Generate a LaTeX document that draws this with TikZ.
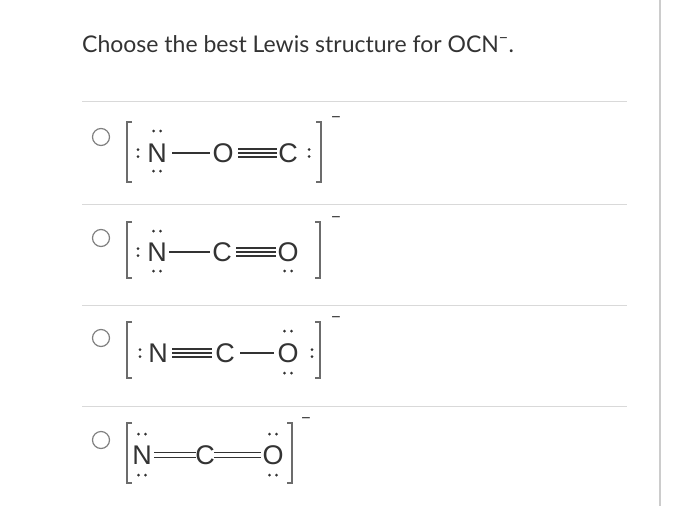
\documentclass[tikz,border=0pt]{standalone}
\usepackage{fontspec}
\setmainfont{Lato}
\newfontfamily\atomfont{Liberation Sans}
\newcommand\hpair[2]{\fill[dotc] (#1-3.5,#2) circle (1.5) (#1+3.5,#2) circle (1.5);}
\newcommand\vpair[2]{\fill[dotc] (#1,#2-3.5) circle (1.5) (#1,#2+3.5) circle (1.5);}
\newcommand\mylbr[3]{\draw[brk] (#1+5,#2) -- (#1,#2) -- (#1,#3) -- (#1+5,#3);}
\newcommand\myrbr[3]{\draw[brk] (#1-5,#2) -- (#1,#2) -- (#1,#3) -- (#1-5,#3);}
\definecolor{txt}{HTML}{333333}
\colorlet{dotc}{txt}
\tikzset{
  atom/.style={font=\atomfont\fontsize{27}{27}\selectfont, text=txt, inner sep=1pt},
  bond/.style={draw=txt, line width=1.3pt},
  brk/.style={draw=gray!85!black, line width=1.8pt},
  radio/.style={draw=gray, line width=1.2pt},
  sep/.style={draw=gray!30, line width=0.8pt},
  minus/.style={font=\atomfont\fontsize{16}{16}\selectfont, text=txt, inner sep=0pt}
}
\begin{document}
\begin{tikzpicture}[x=1pt,y=-1pt]
\useasboundingbox (0,0) rectangle (700,506);
\draw[draw=gray!40, line width=1.5pt] (660,0) -- (660,506);
\node[anchor=west, text=txt, font=\fontsize{23}{23}\selectfont, inner sep=0pt] (title) at (82,44) {Choose the best Lewis structure for OCN\textsuperscript{−}.};
\foreach \y in {101,204,305,406} \draw[sep] (82,\y) -- (627,\y);
\draw[radio] (101,137) circle (8.5);
\mylbr{127}{122}{182}
\node[atom] (n1) at (157,153) {N};
\node[atom] (o1) at (223,153) {O};
\node[atom] (c1) at (288,153) {C};
\vpair{138}{153}\hpair{157}{131}\hpair{157}{171}\vpair{309}{153}
\draw[bond] (172,153) -- (210,153);
\foreach \d in {-4,0,4} \draw[bond] (238,153+\d) -- (277,153+\d);
\myrbr{321}{122}{182}
\node[minus] (m1) at (336,120) {−};
\draw[radio] (101,238) circle (8.5);
\mylbr{127}{222}{278}
\node[atom] (n2) at (157,252) {N};
\node[atom] (c2) at (222,252) {C};
\node[atom] (o2) at (288,252) {O};
\vpair{138}{252}\hpair{157}{231}\hpair{157}{271}\hpair{288}{271}
\draw[bond] (169,252) -- (210,252);
\foreach \d in {-4,0,4} \draw[bond] (236,252+\d) -- (276,252+\d);
\myrbr{320}{222}{278}
\node[minus] (m2) at (336,220) {−};
\draw[radio] (101,338) circle (8.5);
\mylbr{127}{322}{378}
\node[atom] (n3) at (158,353) {N};
\node[atom] (c3) at (225,353) {C};
\node[atom] (o3) at (288,353) {O};
\vpair{140}{353}\hpair{288}{331}\hpair{288}{373}\vpair{312}{353}
\foreach \d in {-4,0,4} \draw[bond] (172,353+\d) -- (212,353+\d);
\draw[bond] (240,353) -- (274,353);
\myrbr{320}{322}{378}
\node[minus] (m3) at (336,320) {−};
\draw[radio] (101,440) circle (8.5);
\mylbr{127}{423}{483}
\node[atom] (n4) at (142,455) {N};
\node[atom] (c4) at (205,455) {C};
\node[atom] (o4) at (273,455) {O};
\hpair{142}{434}\hpair{142}{475}\hpair{273}{434}\hpair{273}{475}
\foreach \d in {-2.5,2.5} \draw[bond] (154,455+\d) -- (196,455+\d);
\foreach \d in {-2.5,2.5} \draw[bond] (214,455+\d) -- (261,455+\d);
\myrbr{292}{423}{483}
\node[minus] (m4) at (306,421) {−};
\end{tikzpicture}
\end{document}
